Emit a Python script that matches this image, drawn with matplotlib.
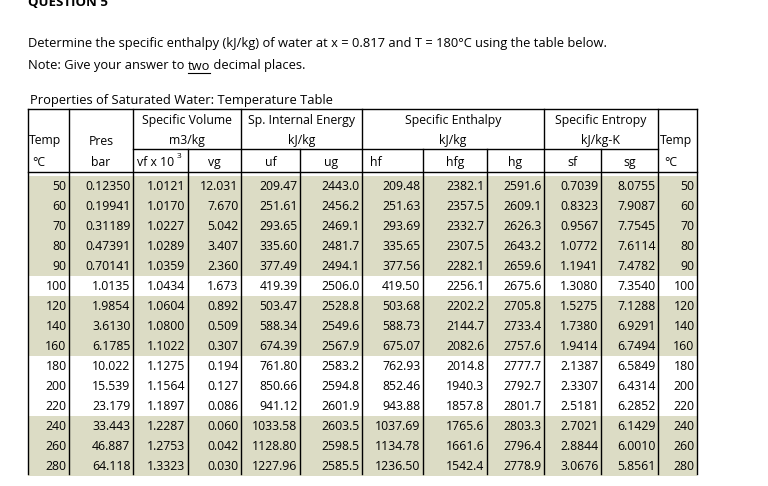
import matplotlib
matplotlib.use("Agg")
import matplotlib.pyplot as plt

temps = [50,60,70,80,90,100,120,140,160,180,200,220,240,260,280]
pres = ["0.12350","0.19941","0.31189","0.47391","0.70141","1.0135","1.9854","3.6130","6.1785","10.022","15.539","23.179","33.443","46.887","64.118"]
vf = ["1.0121","1.0170","1.0227","1.0289","1.0359","1.0434","1.0604","1.0800","1.1022","1.1275","1.1564","1.1897","1.2287","1.2753","1.3323"]
vg = ["12.031","7.670","5.042","3.407","2.360","1.673","0.892","0.509","0.307","0.194","0.127","0.086","0.060","0.042","0.030"]
uf = ["209.47","251.61","293.65","335.60","377.49","419.39","503.47","588.34","674.39","761.80","850.66","941.12","1033.58","1128.80","1227.96"]
ug = ["2443.0","2456.2","2469.1","2481.7","2494.1","2506.0","2528.8","2549.6","2567.9","2583.2","2594.8","2601.9","2603.5","2598.5","2585.5"]
hf = ["209.48","251.63","293.69","335.65","377.56","419.50","503.68","588.73","675.07","762.93","852.46","943.88","1037.69","1134.78","1236.50"]
hfg = ["2382.1","2357.5","2332.7","2307.5","2282.1","2256.1","2202.2","2144.7","2082.6","2014.8","1940.3","1857.8","1765.6","1661.6","1542.4"]
hg = ["2591.6","2609.1","2626.3","2643.2","2659.6","2675.6","2705.8","2733.4","2757.6","2777.7","2792.7","2801.7","2803.3","2796.4","2778.9"]
sf = ["0.7039","0.8323","0.9567","1.0772","1.1941","1.3080","1.5275","1.7380","1.9414","2.1387","2.3307","2.5181","2.7021","2.8844","3.0676"]
sg = ["8.0755","7.9087","7.7545","7.6114","7.4782","7.3540","7.1288","6.9291","6.7494","6.5849","6.4314","6.2852","6.1429","6.0010","5.8561"]
shaded = [True]*5 + [False] + [True]*3 + [False]*3 + [True]*3

FONT = ["Open Sans", "DejaVu Sans"]
fig = plt.figure(figsize=(7.68, 4.86), dpi=100)
ax = fig.add_axes([0, 0, 1, 1])
ax.set_xlim(0, 768); ax.set_ylim(486, 0); ax.axis("off")

def t(x, y, s, ha="left", size=8.8, **kw):
    return ax.text(x, y, s, ha=ha, va="center", fontsize=size, family=FONT, color="black", **kw)

t(28, 2, "QUESTION 5", size=9.5, weight="bold")
t(28, 44, "Determine the specific enthalpy (kJ/kg) of water at x = 0.817 and T = 180°C using the table below.", size=9.3)
a = t(28, 66, "Note: Give your answer to ", size=9.3)
fig.canvas.draw()
r = fig.canvas.get_renderer()
inv = ax.transData.inverted()
bb = a.get_window_extent(r)
x1 = inv.transform((bb.x1, bb.y0))[0]
b = t(x1, 66, "two", size=9.3)
bb2 = b.get_window_extent(r)
x2 = inv.transform((bb2.x1, bb2.y0))[0]
ax.plot([x1, x2], [73, 73], color="black", lw=0.8)
t(x2, 66, " decimal places.", size=9.3)
t(30, 100, "Properties of Saturated Water: Temperature Table", size=9.3)

xs = [28, 69, 133, 188, 241, 300, 362, 423, 487, 544, 601, 658, 697]
y0, ysub, yhead = 109, 149, 172
y_first, dy = 186, 20.0
ybot = y_first + dy * (len(temps) - 1) + 8

for i, sh in enumerate(shaded):
    if sh:
        yc = y_first + dy * i
        ax.fill_between([xs[0], xs[-1]], yc - dy/2, yc + dy/2, color="#dcdcc5", lw=0)

lk = dict(color="black", lw=1.0)
ax.plot([xs[0], xs[-1]], [y0, y0], **lk)
ax.plot([xs[0], xs[-1]], [yhead, yhead], **lk)
ax.plot([xs[2], xs[11]], [ysub, ysub], **lk)
for k, x in enumerate(xs):
    top = ysub if k in (3, 5, 7, 8, 10) else y0
    ax.plot([x, x], [top, ybot], **lk)

groups = [("Specific Volume", "m3/kg", 2, 4), ("Sp. Internal Energy", "kJ/kg", 4, 6),
          ("Specific Enthalpy", "kJ/kg", 6, 9), ("Specific Entropy", "kJ/kg-K", 9, 11)]
for g, u, a0, a1 in groups:
    cx = (xs[a0] + xs[a1]) / 2
    t(cx, 120, g, ha="center")
    t(cx, 140, u, ha="center")
t(29, 140, "Temp"); t(32, 162, "°C")
t((xs[1]+xs[2])/2, 141, "Pres", ha="center"); t((xs[1]+xs[2])/2, 162, "bar", ha="center")
t(660, 140, "Temp"); t(664, 162, "°C")
t(137, 162, "vf x 10"); t(177, 156, "3", size=6)
subs = ["vg", "uf", "ug", "hf", "hfg", "hg", "sf", "sg"]
for k, s in enumerate(subs):
    c = 3 + k
    if s == "hf":
        t(xs[c] + 8, 162, s)
    else:
        t((xs[c] + xs[c+1]) / 2, 162, s, ha="center")

cols = [[str(v) for v in temps], pres, vf, vg, uf, ug, hf, hfg, hg, sf, sg, [str(v) for v in temps]]
for c, col in enumerate(cols):
    for i, s in enumerate(col):
        t(xs[c+1] - 2.5, y_first + dy * i, s, ha="right")

fig.savefig("out.png", dpi=100)
